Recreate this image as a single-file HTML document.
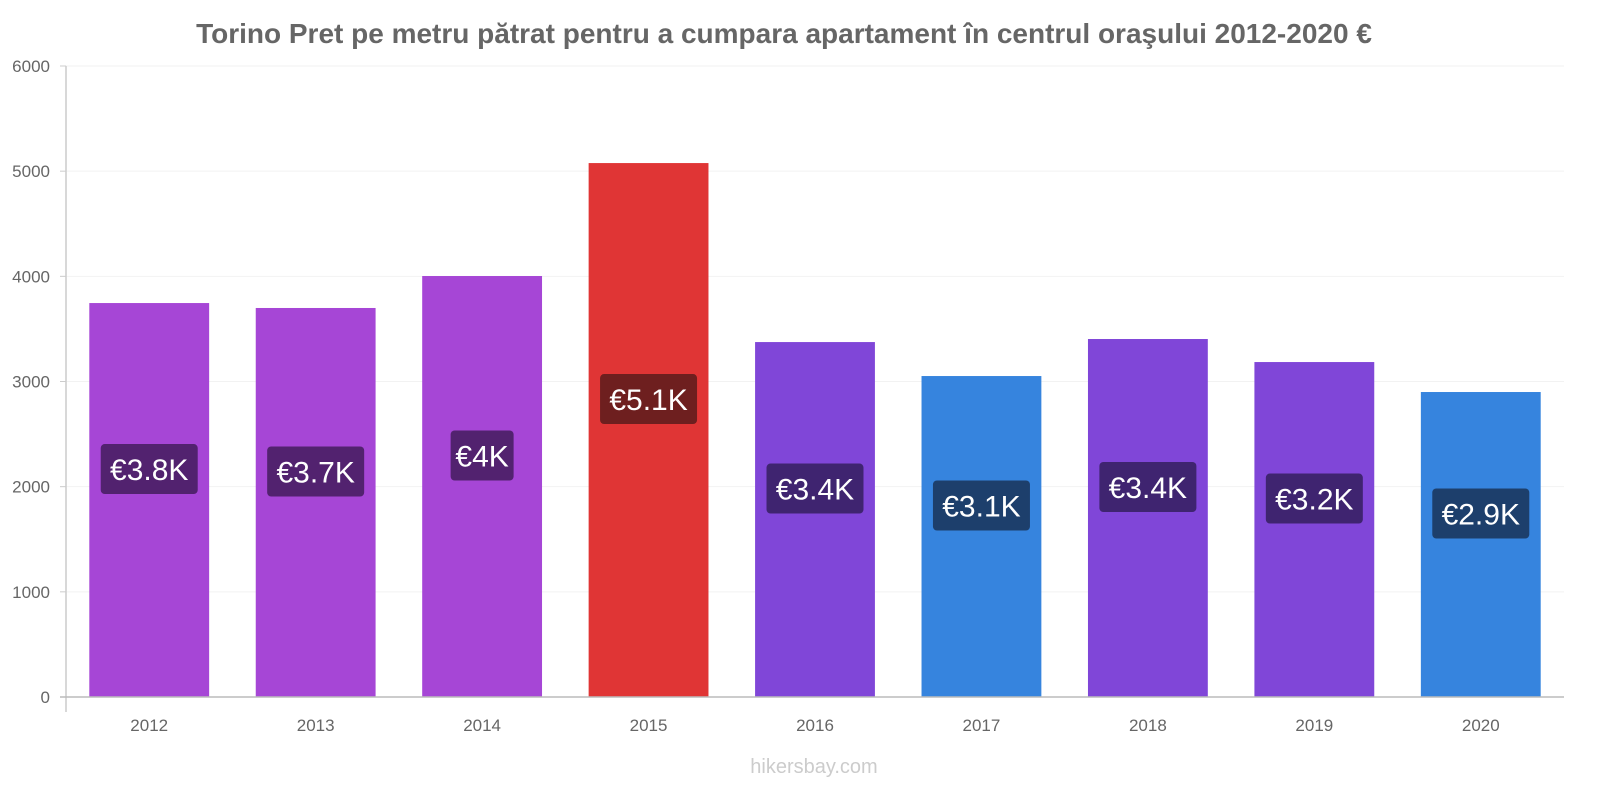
<!DOCTYPE html>
<html><head><meta charset="utf-8"><style>
body{margin:0;background:#fff;font-family:"Liberation Sans",sans-serif;}
svg text{font-family:"Liberation Sans",sans-serif;}
</style></head><body>
<svg id="chart" width="1600" height="800" viewBox="0 0 1600 800">
<text x="784" y="43" text-anchor="middle" font-size="28" font-weight="bold" fill="#666">Torino Pret pe metru pătrat pentru a cumpara apartament în centrul oraşului 2012-2020 €</text>
<g id="grid"></g><g id="bars"></g><g id="axes"></g>
<text x="814" y="773" text-anchor="middle" font-size="20" fill="#ccc">hikersbay.com</text>
</svg>
<script>
const categories=["2012","2013","2014","2015","2016","2017","2018","2019","2020"];
const values=[3746,3699,4003,5077,3375,3052,3404,3185,2900];
const labels=["€3.8K","€3.7K","€4K","€5.1K","€3.4K","€3.1K","€3.4K","€3.2K","€2.9K"];
const colorKeys=["p","p","p","r","v","b","v","v","b"];
const yTicks=[0,1000,2000,3000,4000,5000,6000];
const fills={p:"#a646d6",r:"#e03535",v:"#8046d8",b:"#3684de"};
const lbg={p:"#52226f",r:"#6e1f1f",v:"#3f2470",b:"#1d3f6c"};
const NS="http://www.w3.org/2000/svg";
const x0=66,x1=1564,y0=697,yTop=66,yMax=6000;
const band=(x1-x0)/categories.length;
const y=v=>y0-(v/yMax)*(y0-yTop);
const xc=i=>x0+band*(i+0.5);
function mk(t,a,p){const e=document.createElementNS(NS,t);for(const k in a)e.setAttribute(k,a[k]);p.appendChild(e);return e;}
const G=document.getElementById('grid'),B=document.getElementById('bars'),A=document.getElementById('axes');
yTicks.forEach(t=>{
 const l=mk('line',{x1:x0,x2:x1,y1:y(t),y2:y(t),stroke:t?'#f2f2f2':'#ccc'},G);
 
 
 const tx=mk('text',{x:50,y:y(t)+6,'text-anchor':'end','font-size':17,fill:'#666'},A);tx.textContent=t;
 
 
 mk('line',{x1:60,x2:66,y1:y(t),y2:y(t),stroke:'#ccc'},A);
});
const ax=mk('line',{x1:66,x2:66,y1:66,y2:712,stroke:'#ccc','stroke-width':1.5},A);


const bx=mk('line',{x1:60,x2:x1,y1:y0,y2:y0,stroke:'#bbb','stroke-width':1.5},A);


const bw=band*0.72;
categories.forEach((c,i)=>{
 const k=colorKeys[i],top=y(values[i]);
 const r=mk('rect',{x:xc(i)-bw/2,y:top,width:bw,height:y0-top,fill:fills[k]},B);
 
 
 const ly=(top+y0)/2-31;
 const w=labels[i].length*17+12;
 const lr=mk('rect',{x:xc(i)-w/2,y:ly-25,width:w,height:50,rx:4,fill:lbg[k]},B);
 
 
 const lt=mk('text',{x:xc(i),y:ly+11,'text-anchor':'middle','font-size':30,fill:'#fff'},B);lt.textContent=labels[i];
 
 
 const xt=mk('text',{x:xc(i),y:731,'text-anchor':'middle','font-size':17,fill:'#666'},A);xt.textContent=c;
 
 
});
</script>
</body></html>
